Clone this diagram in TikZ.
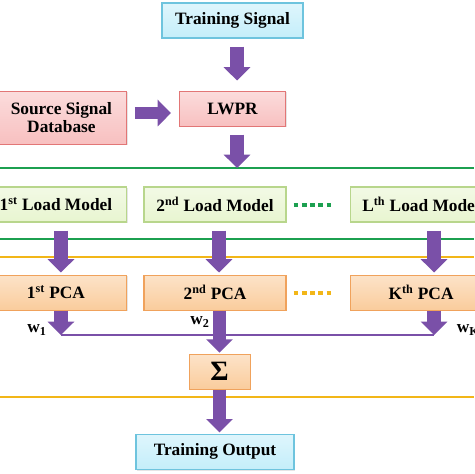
\documentclass[tikz,border=0pt]{standalone}
\usepackage{fontspec}
\setmainfont{Liberation Serif}
\usetikzlibrary{
  positioning,
  calc,
  shadows,
  arrows.meta}
\definecolor{signalcolor}{RGB}{196,238,250}
\definecolor{signalframe}{RGB}{110,196,222}
\definecolor{sourcecolor}{RGB}{248,192,192}
\definecolor{sourceframe}{RGB}{226,118,118}
\definecolor{modelcolor}{RGB}{232,245,208}
\definecolor{modelframe}{RGB}{184,214,140}
\definecolor{pcacolor}{RGB}{250,204,156}
\definecolor{pcaframe}{RGB}{240,162,92}
\definecolor{arrowcolor}{RGB}{122,80,168}
\definecolor{greenrulecolor}{RGB}{28,160,80}
\definecolor{orangerulecolor}{RGB}{242,182,24}
\tikzset{
  %% box : common look of all blocks
  box/.style={
    rectangle,
    line width=0.8pt,
    minimum width=106.5pt,
    minimum height=26.25pt,
    align=center,
    font=\fontsize{13}{14}\selectfont\bfseries,
    drop shadow={shadow xshift=1pt, shadow yshift=-1pt, opacity=0.2}
  },
  %% signal : training input and output
  signal/.style={
    box,
    draw=signalframe,
    top color=signalcolor!55,
    bottom color=signalcolor
  },
  %% source : source database and LWPR
  source/.style={
    box,
    draw=sourceframe,
    top color=sourcecolor!55,
    bottom color=sourcecolor
  },
  %% model : a load model
  model/.style={
    box,
    draw=modelframe,
    top color=modelcolor!55,
    bottom color=modelcolor
  },
  %% pca : a PCA block
  pca/.style={
    box,
    draw=pcaframe,
    top color=pcacolor!55,
    bottom color=pcacolor
  },
  %% bigarrow : the thick purple block arrows
  bigarrow/.style={
    arrowcolor,
    line width=10pt,
    -{Triangle[width=19.5pt,length=10pt]}
  },
  %% weight : the weight labels
  weight/.style={
    font=\fontsize{13}{14}\selectfont\bfseries,
    inner sep=0pt
  },
  %% rules : the coloured separating lines
  greenrule/.style={greenrulecolor, line width=1.6pt},
  orangerule/.style={orangerulecolor, line width=1.6pt},
  dots/.style={line width=3pt, dash pattern=on 3.6pt off 2.6pt}
}
\begin{document}
\begin{tikzpicture}
  [x=0.75pt,
  y=-0.75pt]

  \useasboundingbox [fill=white] (0,0) rectangle (474,474);

  %% Separating lines
  \coordinate (greenA) at (0,168);
  \draw [greenrule] (greenA) -- (474,168);
  \draw [greenrule] (0,239) -- (474,239);
  \draw [orangerule] (0,257) -- (474,257);
  \draw [orangerule] (0,397) -- (474,397);

  %% Top of the workflow
  \node (signal) [signal, minimum width=105.75pt] at (232.5,20.5) {%
    Training Signal};

  \node (lwpr) [below=39pt of signal, source, minimum width=79.5pt] {%
    LWPR};

  \node (source) [left=39pt of lwpr, yshift=-6.75pt, source,
    minimum width=97.5pt, minimum height=39.75pt] {%
    Source Signal\\ Database};

  %% Load models
  \node (model2) [model] at (215,204.5) {%
    2\textsuperscript{nd} Load Model};
  \node (model1) [left=12pt of model2, model] {%
    1\textsuperscript{st} Load Model};
  \node (model3) [right=47.25pt of model2, model] {%
    L\textsuperscript{th} Load Model};

  \draw [dots, greenrulecolor] ([xshift=5.25pt]model2.east) --
  ([xshift=-12pt]model3.west);

  %% PCA blocks
  \node (pca2) [below=39pt of model2, pca] {%
    2\textsuperscript{nd} PCA};
  \node (pca1) [below=39pt of model1, pca] {%
    1\textsuperscript{st} PCA};
  \node (pca3) [below=39pt of model3, pca] {%
    K\textsuperscript{th} PCA};

  \draw [dots, orangerulecolor] ([xshift=5.25pt]pca2.east) --
  ([xshift=-12pt]pca3.west);

  %% Sum and output
  \node (sum) [below=32.25pt of pca2, xshift=3.4pt, pca,
    minimum width=45.75pt, font=\fontsize{21}{22}\selectfont\bfseries] {%
    Σ};

  \node (output) [below=33pt of sum, xshift=-3.4pt, signal,
    minimum width=118.5pt] {%
    Training Output};

  %% Connections
  \draw [bigarrow, line width=11pt, shorten <=6pt, shorten >=7.5pt]
  ([xshift=3.4pt]signal.south) -- ([xshift=3.4pt]signal.south |- lwpr.north);
  \draw [bigarrow, line width=8.5pt, shorten <=6pt, shorten >=6pt]
  ([yshift=3.4pt]source.east) -- ([yshift=3.4pt]source.east -| lwpr.west);
  \draw [bigarrow, shorten <=6pt]
  ([xshift=3.4pt]lwpr.south) -- ([xshift=3.4pt]lwpr.south |- greenA);

  \draw [bigarrow, shorten <=6pt, shorten >=1.5pt]
  ([xshift=3.75pt]model1.south) -- ([xshift=3.75pt]pca1.north);
  \draw [bigarrow, shorten <=6pt, shorten >=1.5pt]
  ([xshift=3pt]model2.south) -- ([xshift=3pt]pca2.north);
  \draw [bigarrow, shorten <=6pt, shorten >=1.5pt]
  ([xshift=9.75pt]model3.south) -- ([xshift=9.75pt]pca3.north);

  \coordinate (wline) at (0,335);
  \coordinate (w1end) at ($([xshift=3.75pt]pca1.south) !1! ([xshift=3.75pt]pca1.south |- wline)$);
  \coordinate (wKend) at ($([xshift=9.75pt]pca3.south) !1! ([xshift=9.75pt]pca3.south |- wline)$);
  \draw [arrowcolor, line width=1.6pt] (w1end) -- (wKend);

  \draw [bigarrow] ([xshift=3.75pt]pca1.south) -- (w1end);
  \draw [bigarrow] ([xshift=9.75pt]pca3.south) -- (wKend);
  \draw [bigarrow, shorten >=0.75pt] (sum.north |- pca2.south) -- (sum.north);
  \draw [bigarrow, shorten >=1pt] (sum.south) -- (sum.south |- output.north);

  %% Weights
  \node (w1) [weight] at (37,330) {w\textsubscript{1}};
  \node (w2) [weight] at (200,322) {w\textsubscript{2}};
  \node (wK) [weight, anchor=west] at (456.5,330) {w\textsubscript{K}};

\end{tikzpicture}
\end{document}
